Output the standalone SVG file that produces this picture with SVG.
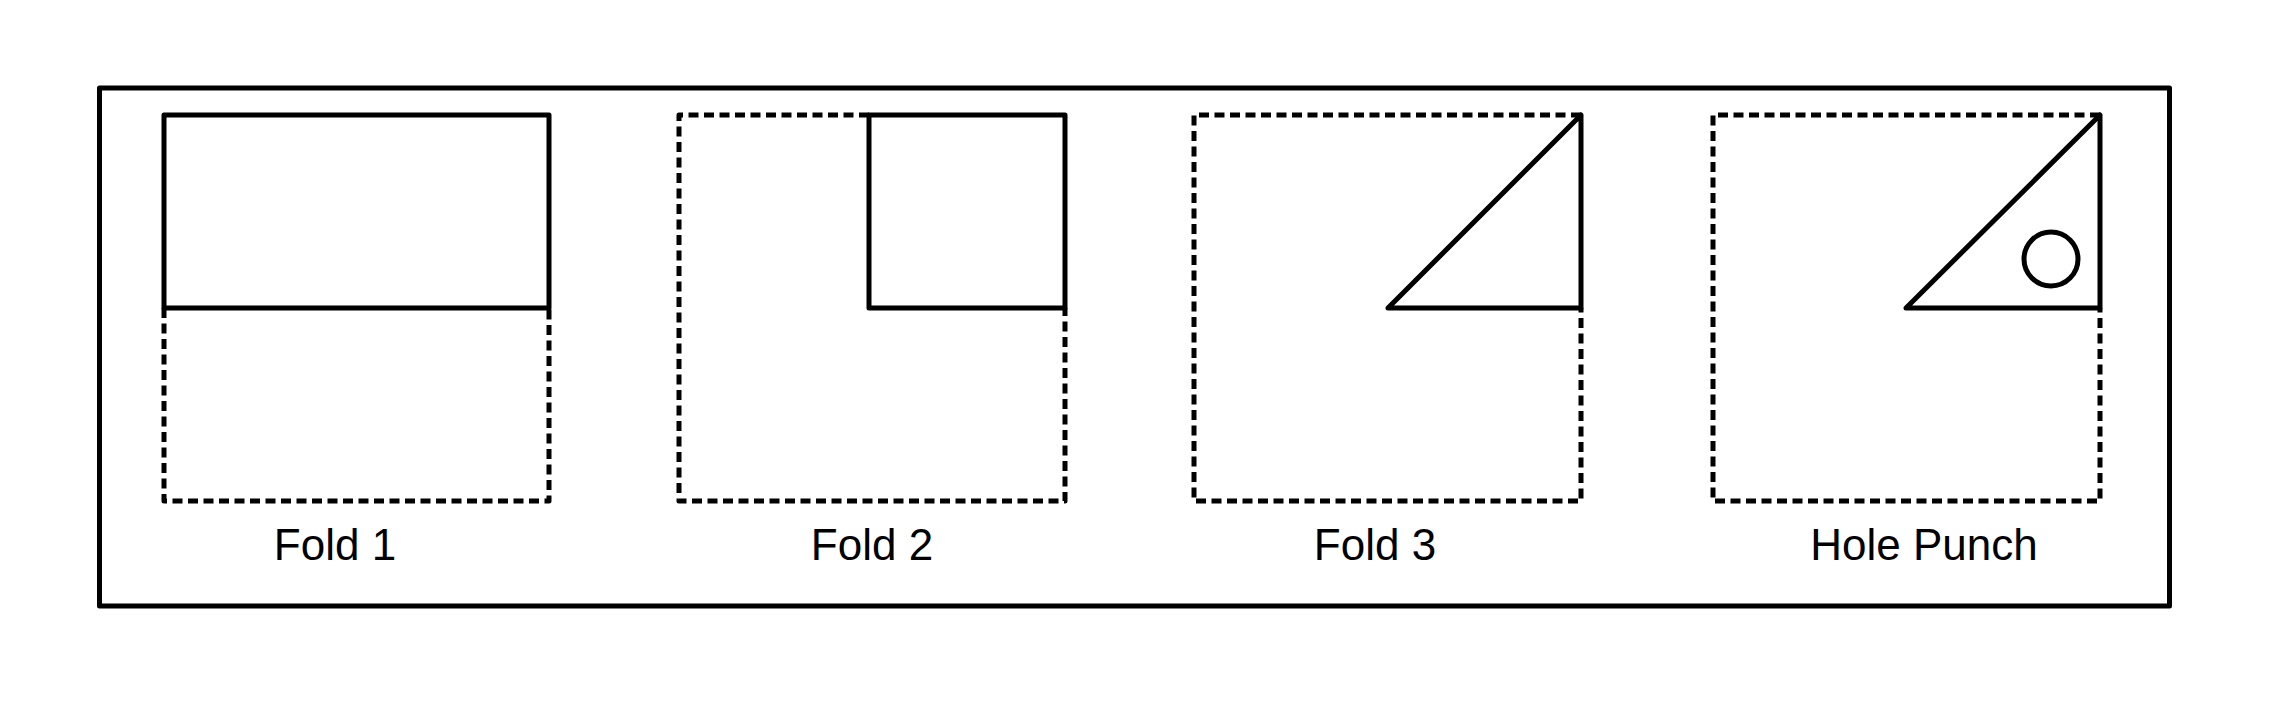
<svg xmlns="http://www.w3.org/2000/svg" width="2274" height="717" viewBox="0 0 2274 717">
<style>
.solid{fill:none;stroke:#000;stroke-width:5;stroke-linejoin:round;stroke-linecap:round}
.dash{fill:none;stroke:#000;stroke-width:5;stroke-dasharray:10 5.5;stroke-linejoin:round}
.lbl{font-family:"Liberation Sans",Arial,sans-serif;font-size:44px;fill:#000;text-anchor:middle}
</style>
<rect width="2274" height="717" fill="#fff"/>
<rect id="frame" x="99.5" y="88" width="2070" height="518" class="solid"/>
<g id="fold1">
<path class="dash" d="M164 308 V501 H549 V308"/>
<rect class="solid" x="164" y="115" width="385" height="193"/>
<text class="lbl" x="335" y="560">Fold 1</text>
</g>
<g id="fold2">
<path class="dash" d="M869 115 H679 V501 H1065 V308"/>
<rect class="solid" x="869" y="115" width="196" height="193"/>
<text class="lbl" x="872" y="560">Fold 2</text>
</g>
<g id="fold3">
<path class="dash" d="M1581 115 H1194 V501 H1581 V308"/>
<path class="solid" d="M1388 308 L1581 115 V308 Z"/>
<text class="lbl" x="1375" y="560">Fold 3</text>
</g>
<g id="holepunch">
<path class="dash" d="M2100 115 H1713 V501 H2100 V308"/>
<path class="solid" d="M1906 308 L2100 115 V308 Z"/>
<circle class="solid" cx="2051" cy="259" r="27"/>
<text class="lbl" x="1924" y="560">Hole Punch</text>
</g>
</svg>
